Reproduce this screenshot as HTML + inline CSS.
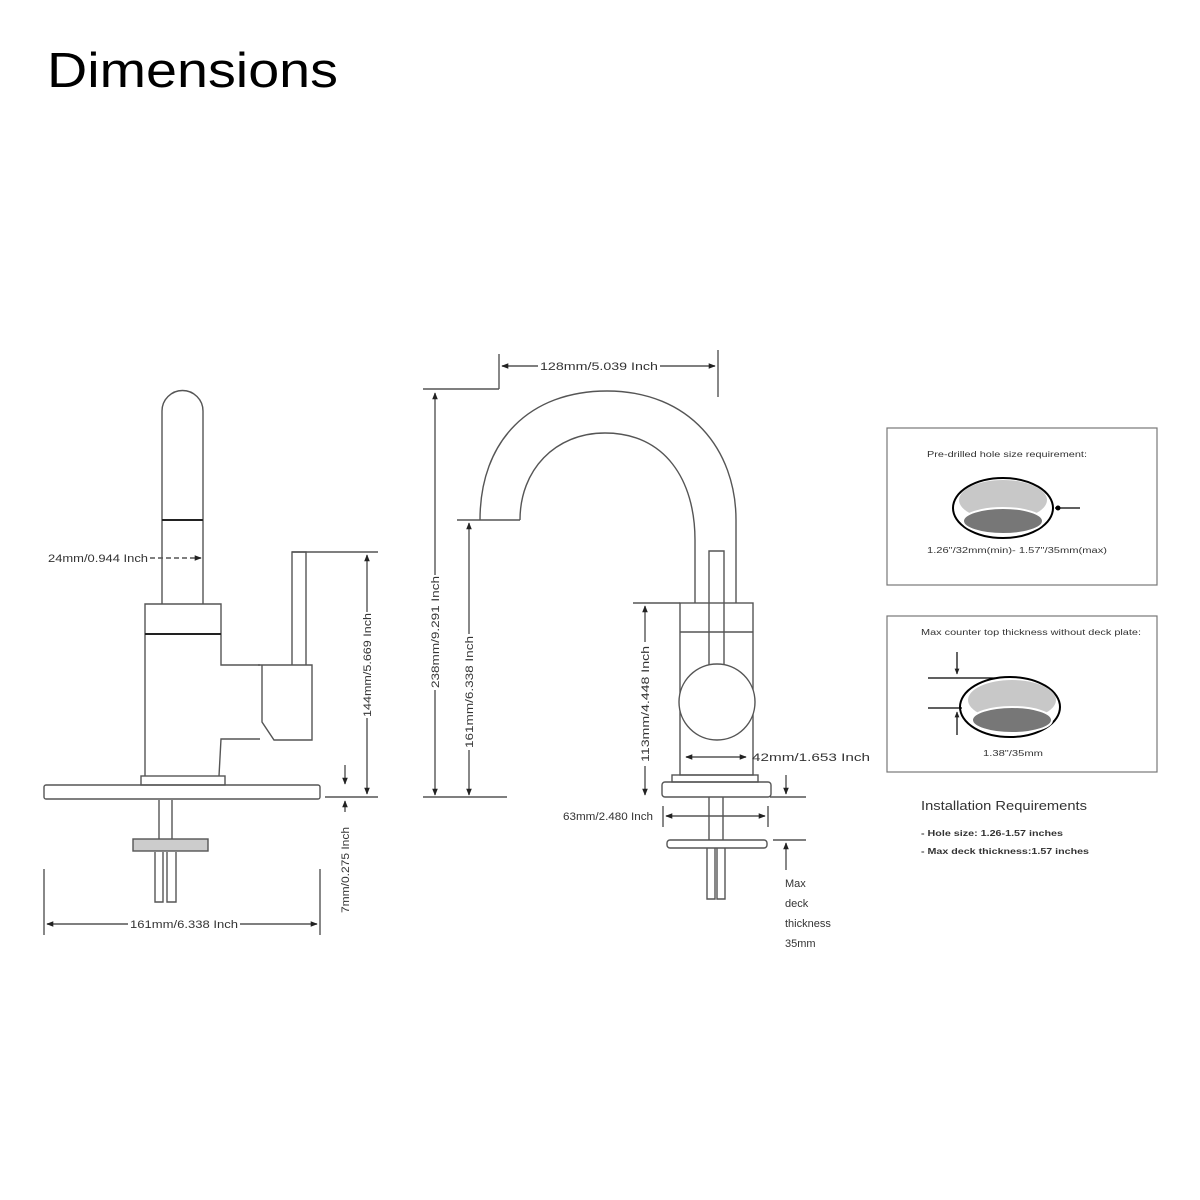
<!DOCTYPE html>
<html><head><meta charset="utf-8"><style>
html,body{margin:0;padding:0;background:#fff;}
svg{display:block;}
text{font-family:"Liberation Sans",sans-serif;fill:#333;}
</style></head><body>
<svg width="1200" height="1200" viewBox="0 0 1200 1200" xmlns="http://www.w3.org/2000/svg">
<defs>
<marker id="a" viewBox="0 0 10 10" refX="9" refY="5" markerWidth="5" markerHeight="5" orient="auto-start-reverse"><path d="M0,1 L10,5 L0,9 z" fill="#222"/></marker>
</defs>
<text x="47" y="87" font-size="49" textLength="291" lengthAdjust="spacingAndGlyphs" style="fill:#000">Dimensions</text>

<g fill="none" stroke="#555" stroke-width="1.4">
<!-- LEFT FAUCET -->
<path d="M162,604 L162,411 A20.5,20.5 0 0 1 203,411 L203,604"/>
<line x1="162" y1="520" x2="203" y2="520" stroke="#222" stroke-width="2"/>
<path d="M145,776 L145,604 L221,604 L221,665 L260,665"/>
<line x1="145" y1="634" x2="221" y2="634" stroke="#222" stroke-width="2"/>
<path d="M260,739 L221,739 L219,776"/>
<path d="M258,665 L312,665 L312,740 L274,740 L262,722 L262,665"/>
<path d="M292,665 L292,552 L306,552 L306,665"/>
<line x1="292" y1="552" x2="378" y2="552"/>
<rect x="141" y="776" width="84" height="9"/>
<rect x="44" y="785" width="276" height="14" rx="2"/>
<line x1="159" y1="800" x2="159" y2="839"/><line x1="172" y1="800" x2="172" y2="839"/>
<rect x="133" y="839" width="75" height="12" fill="#ccc"/>
<path d="M155,852 L155,902 L163,902 L163,852 M167,852 L167,902 L176,902 L176,852"/>
<line x1="325" y1="797" x2="378" y2="797"/>
<line x1="367" y1="555" x2="367" y2="612" marker-start="url(#a)"/>
<line x1="367" y1="718" x2="367" y2="794" marker-end="url(#a)"/>
<line x1="345" y1="765" x2="345" y2="784" marker-end="url(#a)"/>
<line x1="345" y1="812" x2="345" y2="801" marker-end="url(#a)"/>
<line x1="44" y1="869" x2="44" y2="935"/><line x1="320" y1="869" x2="320" y2="935"/>
<line x1="47" y1="924" x2="128" y2="924" marker-start="url(#a)"/>
<line x1="240" y1="924" x2="317" y2="924" marker-end="url(#a)"/>
<line x1="150" y1="558" x2="201" y2="558" stroke-dasharray="5,3" marker-end="url(#a)"/>

<!-- MIDDLE FAUCET -->
<line x1="499" y1="354" x2="499" y2="389"/>
<line x1="423" y1="389" x2="499" y2="389"/>
<line x1="718" y1="350" x2="718" y2="397"/>
<line x1="502" y1="366" x2="538" y2="366" marker-start="url(#a)"/>
<line x1="660" y1="366" x2="715" y2="366" marker-end="url(#a)"/>
<line x1="435" y1="393" x2="435" y2="575" marker-start="url(#a)"/>
<line x1="435" y1="690" x2="435" y2="795" marker-end="url(#a)"/>
<line x1="423" y1="797" x2="507" y2="797"/>
<line x1="457" y1="520" x2="520" y2="520"/>
<path d="M480,520 C480,440 530,391 607,391 C690,391 736,450 736,520 L736,603"/>
<path d="M520,520 C520,470 555,433 605,433 C665,433 695,480 695,540 L695,603"/>
<line x1="469" y1="523" x2="469" y2="634" marker-start="url(#a)"/>
<line x1="469" y1="750" x2="469" y2="795" marker-end="url(#a)"/>
<rect x="680" y="603" width="73" height="172"/>
<line x1="680" y1="632" x2="753" y2="632"/>
<line x1="633" y1="603" x2="680" y2="603"/>
<path d="M709,680 L709,551 L724,551 L724,680"/>
<circle cx="717" cy="702" r="38" fill="#fff"/>
<line x1="645" y1="606" x2="645" y2="642" marker-start="url(#a)"/>
<line x1="645" y1="766" x2="645" y2="795" marker-end="url(#a)"/>
<line x1="686" y1="757" x2="746" y2="757" marker-start="url(#a)" marker-end="url(#a)"/>
<rect x="672" y="775" width="86" height="7"/>
<rect x="662" y="782" width="109" height="15" rx="3"/>
<line x1="770" y1="797" x2="806" y2="797"/>
<line x1="786" y1="775" x2="786" y2="794" marker-end="url(#a)"/>
<line x1="663" y1="806" x2="663" y2="827"/><line x1="768" y1="806" x2="768" y2="827"/>
<line x1="666" y1="816" x2="765" y2="816" marker-start="url(#a)" marker-end="url(#a)"/>
<line x1="709" y1="797" x2="709" y2="840"/><line x1="723" y1="797" x2="723" y2="840"/>
<rect x="667" y="840" width="100" height="8" rx="3"/>
<path d="M707,848 L707,899 L715,899 L715,848 M717,848 L717,899 L725,899 L725,848"/>
<line x1="773" y1="840" x2="806" y2="840"/>
<line x1="786" y1="870" x2="786" y2="843" marker-end="url(#a)"/>
</g>

<g font-size="11" fill="#333">
<text x="48" y="562" textLength="100" lengthAdjust="spacingAndGlyphs">24mm/0.944 Inch</text>
<text x="130" y="928" textLength="108" lengthAdjust="spacingAndGlyphs">161mm/6.338 Inch</text>
<text transform="translate(371,665) rotate(-90)" text-anchor="middle" textLength="104" lengthAdjust="spacingAndGlyphs">144mm/5.669 Inch</text>
<text transform="translate(349,870) rotate(-90)" text-anchor="middle" textLength="86" lengthAdjust="spacingAndGlyphs">7mm/0.275 Inch</text>
<text x="540" y="370" textLength="118" lengthAdjust="spacingAndGlyphs">128mm/5.039 Inch</text>
<text transform="translate(439,632) rotate(-90)" text-anchor="middle" textLength="112" lengthAdjust="spacingAndGlyphs">238mm/9.291 Inch</text>
<text transform="translate(473,692) rotate(-90)" text-anchor="middle" textLength="112" lengthAdjust="spacingAndGlyphs">161mm/6.338 Inch</text>
<text transform="translate(649,704) rotate(-90)" text-anchor="middle" textLength="116" lengthAdjust="spacingAndGlyphs">113mm/4.448 Inch</text>
<text x="752" y="761" textLength="118" lengthAdjust="spacingAndGlyphs">42mm/1.653 Inch</text>
<text x="563" y="820" textLength="90" lengthAdjust="spacingAndGlyphs">63mm/2.480 Inch</text>
<text x="785" y="887">Max</text>
<text x="785" y="907">deck</text>
<text x="785" y="927">thickness</text>
<text x="785" y="947">35mm</text>
</g>

<!-- RIGHT BOXES -->
<g fill="none" stroke="#777" stroke-width="1.2">
<rect x="887" y="428" width="270" height="157"/>
<rect x="887" y="616" width="270" height="156"/>
</g>
<ellipse cx="1003" cy="508" rx="50" ry="30" fill="#fff" stroke="#000" stroke-width="2"/>
<ellipse cx="1003" cy="500" rx="44" ry="20" fill="#c8c8c8"/>
<ellipse cx="1003" cy="521" rx="40" ry="13" fill="#777" stroke="#fff" stroke-width="2"/>
<line x1="1055" y1="508" x2="1080" y2="508" stroke="#000" stroke-width="1.2"/>
<circle cx="1058" cy="508" r="2.5" fill="#000"/>
<ellipse cx="1010" cy="707" rx="50" ry="30" fill="#fff" stroke="#000" stroke-width="2"/>
<ellipse cx="1012" cy="700" rx="44" ry="20" fill="#c8c8c8"/>
<ellipse cx="1012" cy="720" rx="40" ry="13" fill="#777" stroke="#fff" stroke-width="2"/>
<g stroke="#000" stroke-width="1.2">
<line x1="928" y1="678" x2="995" y2="678"/>
<line x1="928" y1="708" x2="962" y2="708"/>
<line x1="957" y1="652" x2="957" y2="674" marker-end="url(#a)"/>
<line x1="957" y1="735" x2="957" y2="712" marker-end="url(#a)"/>
</g>
<g font-size="8" fill="#444">
<text x="927" y="457" textLength="160" lengthAdjust="spacingAndGlyphs">Pre-drilled hole size requirement:</text>
<text x="927" y="553" textLength="180" lengthAdjust="spacingAndGlyphs">1.26"/32mm(min)- 1.57"/35mm(max)</text>
<text x="921" y="635" textLength="220" lengthAdjust="spacingAndGlyphs">Max counter top thickness without deck plate:</text>
<text x="983" y="756" textLength="60" lengthAdjust="spacingAndGlyphs">1.38"/35mm</text>
</g>
<text x="921" y="810" font-size="13" textLength="166" lengthAdjust="spacingAndGlyphs">Installation Requirements</text>
<g font-size="8.5" font-weight="bold" fill="#222">
<text x="921" y="836" textLength="142" lengthAdjust="spacingAndGlyphs">- Hole size: 1.26-1.57 inches</text>
<text x="921" y="854" textLength="168" lengthAdjust="spacingAndGlyphs">- Max deck thickness:1.57 inches</text>
</g>
</svg>
</body></html>
